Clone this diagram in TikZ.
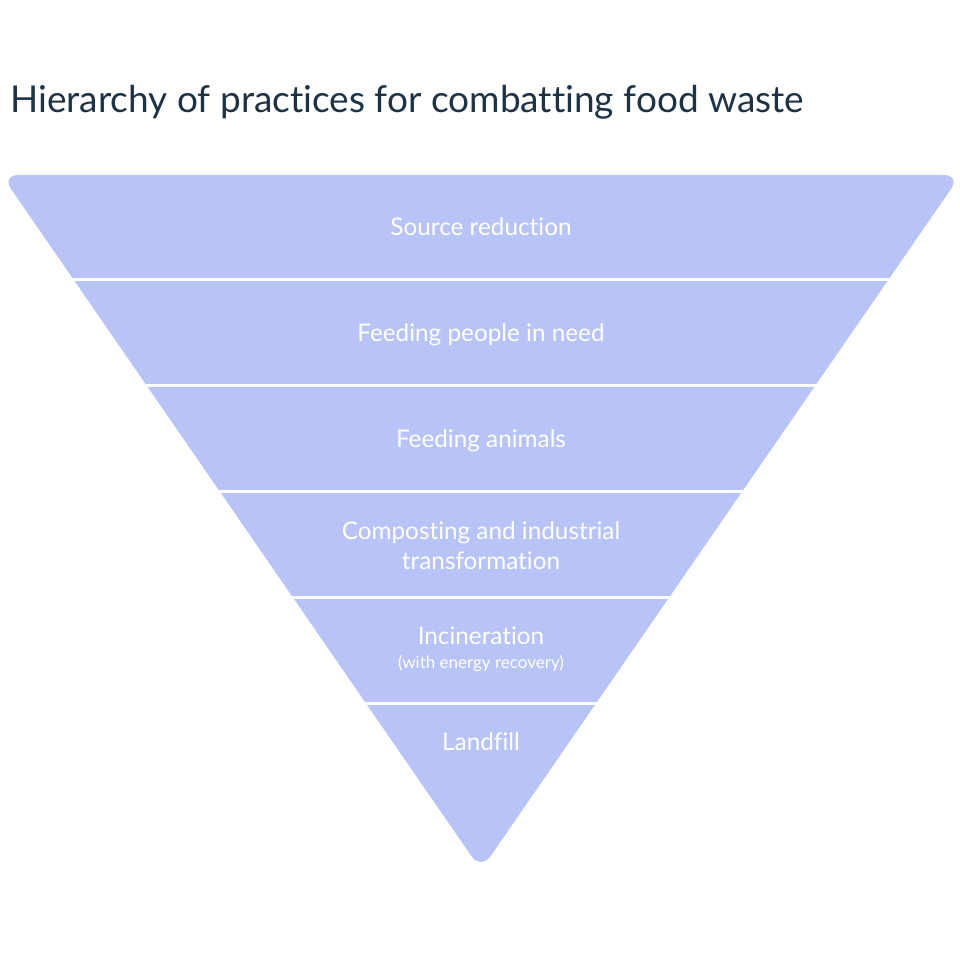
\documentclass[tikz,border=0pt]{standalone}
\usepackage{fontspec}
\setmainfont{Lato}[Ligatures=NoCommon]
\definecolor{band}{HTML}{B8C3F7}
\definecolor{titlecol}{HTML}{1E3246}
\begin{document}
\begin{tikzpicture}[x=1pt,y=-1pt,
  lbl/.style={text=white,font=\fontsize{24.3}{30}\selectfont,align=center,inner sep=0pt},
  sublbl/.style={text=white,font=\fontsize{17}{20}\selectfont,inner sep=0pt},
  sep/.style={draw=white,line width=3pt}]
\useasboundingbox (0,0) rectangle (960,960);
\fill[white] (0,0) rectangle (960,960);
\node[anchor=base west,inner sep=0pt,text=titlecol,font=\fontsize{37}{44}\selectfont] (title) at (10,113) {Hierarchy of practices for combatting food waste};
\coordinate (tm) at (481,175);
\coordinate (tl) at (1.4,175);
\coordinate (tr) at (960.6,175);
\coordinate (tip) at (481,870);
\begin{scope}
\clip[rounded corners=17pt] (tm) -- (tr) -- (tip) -- (tl) -- cycle;
\fill[band] (0,0) rectangle (960,960);
\foreach \y/\n in {279/s1,385.5/s2,491.5/s3,597.5/s4,703/s5}{
  \coordinate (\n a) at (0,\y);
  \coordinate (\n b) at (960,\y);
  \draw[sep] (\n a) -- (\n b);
}
\end{scope}
\node[lbl,anchor=base] (b1) at (481,235) {Source reduction};
\node[lbl,anchor=base] (b2) at (481,341) {Feeding people in need};
\node[lbl,anchor=base] (b3) at (481,447) {Feeding animals};
\node[lbl,anchor=base] (b4a) at (481,539) {Composting and industrial};
\node[lbl,anchor=base] (b4b) at (481,569) {transformation};
\node[lbl,anchor=base] (b5) at (481,644) {Incineration};
\node[sublbl,anchor=base] (b5s) at (481,668) {(with energy recovery)};
\node[lbl,anchor=base] (b6) at (481,750) {Landfill};
\end{tikzpicture}
\end{document}
